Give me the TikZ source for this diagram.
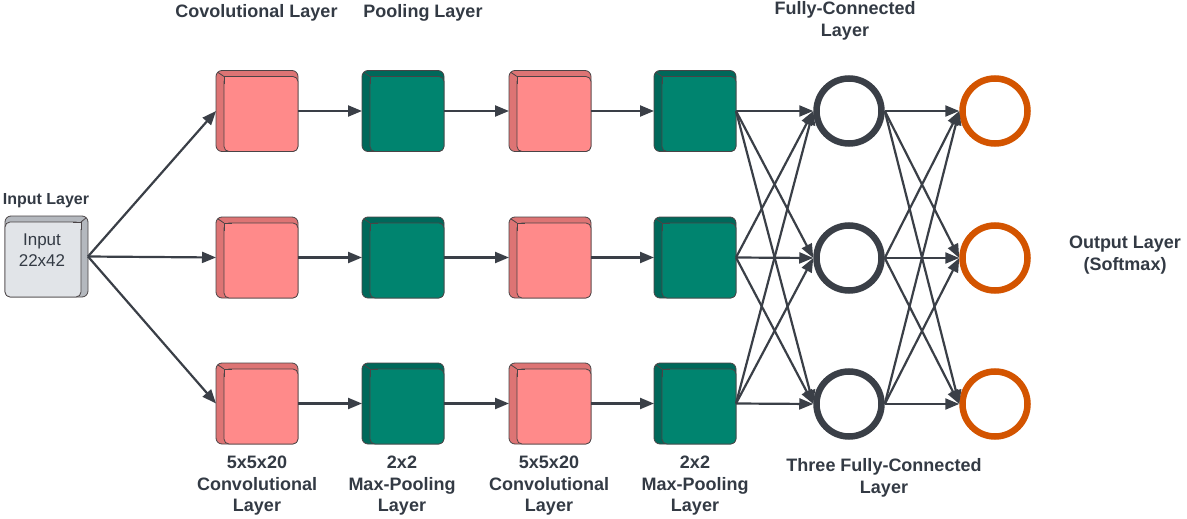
\documentclass[tikz,border=0pt]{standalone}
\usepackage{fontspec}
\setmainfont{Liberation Sans}
\usetikzlibrary{arrows.meta,calc}
\definecolor{ink}{HTML}{3A3F47}
\definecolor{txt}{HTML}{333A44}
\definecolor{convF}{HTML}{FF8A8A}
\definecolor{convD}{HTML}{DD7474}
\definecolor{poolF}{HTML}{00846F}
\definecolor{poolD}{HTML}{00685A}
\definecolor{inF}{HTML}{E1E4E8}
\definecolor{inD}{HTML}{B4B8BE}
\definecolor{orng}{HTML}{D35400}
\definecolor{edgec}{HTML}{4A4446}
\tikzset{
  box/.style={minimum width=82pt, minimum height=81pt, inner sep=0pt, outer sep=0pt},
  ring/.style={circle, draw=ink, line width=6.5pt, minimum size=65pt, inner sep=0pt},
  outring/.style={ring, draw=orng},
  arr/.style={draw=ink, line width=2.2pt, -{Triangle[length=14pt,width=11pt]}},
  lbl/.style={font=\fontsize{18}{21.5}\selectfont\bfseries, text=txt, align=center, inner sep=0pt},
  plain/.style={font=\fontsize{17}{21}\selectfont, text=txt, align=center, inner sep=0pt},
  edgeline/.style={draw=edgec, line width=0.8pt},
}
\newcommand\lcube[3]{%
  \draw[edgeline, fill=#3, rounded corners=6pt] (#1.south west) rectangle (#1.north east);
  \draw[edgeline, fill=#2, rounded corners=5pt] ($(#1.south west)+(8,0)$) rectangle ($(#1.north east)+(0,6)$);
  \fill[#2] ($(#1.north west)+(8.4,6.4)$) rectangle ($(#1.north west)+(15,13)$);
  \draw[edgeline] ($(#1.north west)+(8,14)$) -- ($(#1.north west)+(8,6)$) -- ($(#1.north west)+(16,6)$);
  \draw[edgeline] ($(#1.north west)+(1.8,1.8)$) -- ($(#1.north west)+(8,6)$);
}
\begin{document}
\begin{tikzpicture}[x=1pt,y=-1pt]
\useasboundingbox (0,0) rectangle (1187,519);
% input cube
\node[box, minimum width=83pt] (in) at (46.5,256.5) {};
\draw[edgeline, fill=inD, rounded corners=6pt] (in.south west) rectangle (in.north east);
\draw[edgeline, fill=inF, rounded corners=5pt] (in.south west) rectangle ($(in.north east)+(-7,6)$);
\fill[inF] ($(in.north east)+(-7.4,6.4)$) rectangle ($(in.north east)+(-14,13)$);
\draw[edgeline] ($(in.north east)+(-7,14)$) -- ($(in.north east)+(-7,6)$) -- ($(in.north east)+(-15,6)$);
\draw[edgeline] ($(in.north east)+(-1.8,1.8)$) -- ($(in.north east)+(-7,6)$);
\node[plain] (intext) at (42,250) {Input\\22x42};
% cubes
\foreach \r/\y in {1/111,2/257.5,3/403.5}{
  \node[box] (ca\r) at (257,\y) {};
  \lcube{ca\r}{convF}{convD}
  \node[box] (pa\r) at (403,\y) {};
  \lcube{pa\r}{poolF}{poolD}
  \node[box] (cb\r) at (550,\y) {};
  \lcube{cb\r}{convF}{convD}
  \node[box] (pb\r) at (695,\y) {};
  \lcube{pb\r}{poolF}{poolD}
}
\foreach \r/\y in {1/111,2/258,3/404}{
  \node[ring] (f\r) at (849,\y) {};
  \node[outring] (o\r) at (995,\y) {};
}
% arrows
\foreach \r in {1,2,3}{
  \draw[arr] (in.east) -- (ca\r.west);
  \draw[arr] (ca\r.east) -- (pa\r.west);
  \draw[arr] (pa\r.east) -- (cb\r.west);
  \draw[arr] (cb\r.east) -- (pb\r.west);
  \foreach \s in {1,2,3}{
    \draw[arr] (pb\r.east) -- (f\s.west);
    \draw[arr] (f\r.east) -- (o\s.west);
  }
}
% labels
\node[lbl] (l1) at (256.5,13) {Covolutional Layer};
\node[lbl] (l2) at (423,13) {Pooling Layer};
\node[lbl] (l3) at (845,21) {Fully-Connected\\Layer};
\node[lbl, font=\fontsize{16}{20}\selectfont\bfseries] (l4) at (46,201) {Input Layer};
\node[lbl] (l5) at (1125,255) {Output Layer\\(Softmax)};
\node[lbl] (b1) at (257,486) {5x5x20\\Convolutional\\Layer};
\node[lbl] (b2) at (402,486) {2x2\\Max-Pooling\\Layer};
\node[lbl] (b3) at (549,486) {5x5x20\\Convolutional\\Layer};
\node[lbl] (b4) at (695,486) {2x2\\Max-Pooling\\Layer};
\node[lbl] (b5) at (884,478) {Three Fully-Connected\\Layer};
\end{tikzpicture}
\end{document}
